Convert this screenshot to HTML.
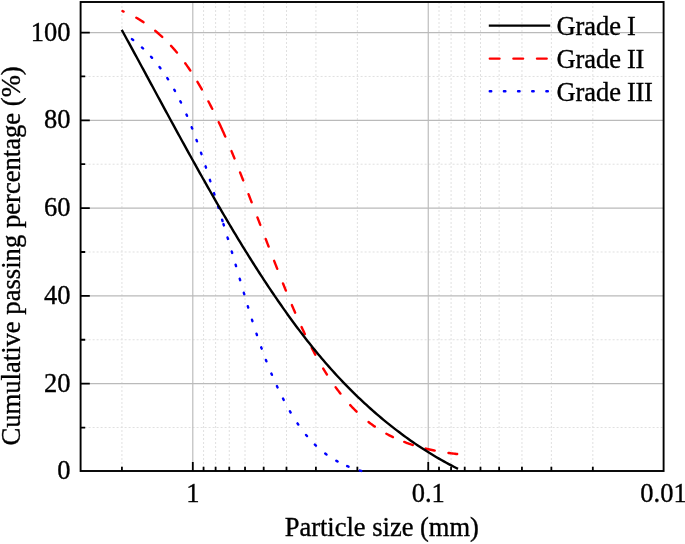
<!DOCTYPE html>
<html><head><meta charset="utf-8"><title>Particle size distribution</title>
<style>.t{stroke:#000;stroke-width:.35px}html,body{margin:0;padding:0;background:#fff}body{width:685px;height:544px;overflow:hidden}</style></head>
<body>
<svg width="685" height="544" viewBox="0 0 685 544" style="display:block;font-family:'Liberation Serif','Times New Roman',serif;font-size:26.5px;fill:#000;stroke:none">
<rect width="685" height="544" fill="#fff"/>
<path d="M80.6 427.53H663.6M80.6 339.76H663.6M80.6 251.99H663.6M80.6 164.21H663.6M80.6 76.44H663.6M121.92 2.0V471.0M203.57 2.0V471.0M215.62 2.0V471.0M229.27 2.0V471.0M245.03 2.0V471.0M263.68 2.0V471.0M286.49 2.0V471.0M315.91 2.0V471.0M357.37 2.0V471.0M439.02 2.0V471.0M451.07 2.0V471.0M464.72 2.0V471.0M480.48 2.0V471.0M499.13 2.0V471.0M521.94 2.0V471.0M551.36 2.0V471.0M592.82 2.0V471.0" stroke="#e0e0e0" stroke-width="1" stroke-dasharray="2 2" fill="none"/>
<path d="M80.6 383.65H663.6M80.6 295.87H663.6M80.6 208.10H663.6M80.6 120.32H663.6M80.6 32.55H663.6M192.80 2.0V471.0M428.25 2.0V471.0" stroke="#bababa" stroke-width="1.15" fill="none"/>
<path d="M80.6 383.65h9.2M80.6 295.87h9.2M80.6 208.10h9.2M80.6 120.32h9.2M80.6 32.55h9.2M80.6 427.53h4.6M80.6 339.76h4.6M80.6 251.99h4.6M80.6 164.21h4.6M80.6 76.44h4.6M192.80 471.0v-9.1M428.25 471.0v-9.1M121.92 471.0v-4.3M203.57 471.0v-4.3M215.62 471.0v-4.3M229.27 471.0v-4.3M245.03 471.0v-4.3M263.68 471.0v-4.3M286.49 471.0v-4.3M315.91 471.0v-4.3M357.37 471.0v-4.3M439.02 471.0v-4.3M451.07 471.0v-4.3M464.72 471.0v-4.3M480.48 471.0v-4.3M499.13 471.0v-4.3M521.94 471.0v-4.3M551.36 471.0v-4.3M592.82 471.0v-4.3" stroke="#000" stroke-width="1.8" fill="none"/>
<rect x="80.6" y="2.0" width="583.0" height="469.0" fill="none" stroke="#000" stroke-width="1.9"/>
<path d="M121.89 32.21L122.80 32.77L123.70 33.34L124.61 33.92L125.50 34.50L126.39 35.09L127.27 35.69L128.14 36.30L129.01 36.91L129.88 37.53L130.73 38.16L131.59 38.79L132.43 39.43L133.27 40.08L134.10 40.73L134.93 41.39L135.75 42.06L136.57 42.73L137.38 43.41L138.18 44.09L138.98 44.78L139.77 45.48L140.55 46.18L141.33 46.89L142.11 47.61L142.88 48.33L143.64 49.06L144.40 49.79L145.15 50.53L145.89 51.27L146.63 52.02L147.37 52.77L148.10 53.53L148.82 54.30L149.54 55.07L150.25 55.84L150.96 56.62L151.66 57.41L152.36 58.20L153.05 58.99L153.73 59.79L154.41 60.60L155.09 61.40L155.76 62.22L156.42 63.03L157.08 63.86L157.73 64.68L158.38 65.51L159.03 66.35L159.66 67.18L160.30 68.03L160.92 68.87L161.55 69.72L162.17 70.58L162.78 71.43L163.39 72.30L163.99 73.16L164.59 74.03L165.18 74.90L165.77 75.77L166.35 76.65L166.93 77.53L167.50 78.42L168.07 79.30L168.63 80.19L169.19 81.09L169.75 81.98L170.30 82.88L170.84 83.78L171.38 84.69L171.92 85.60L172.45 86.51L172.98 87.42L173.50 88.33L174.02 89.25L174.54 90.17L175.05 91.09L175.55 92.02L176.05 92.95L176.55 93.88L177.05 94.81L177.54 95.74L178.02 96.68L178.51 97.62L178.98 98.56L179.46 99.50L179.93 100.45L180.40 101.40L180.86 102.35L181.32 103.30L181.78 104.25L182.23 105.20L182.68 106.16L183.13 107.12L183.58 108.08L184.02 109.04L184.45 110.01L184.89 110.97L185.32 111.94L185.75 112.91L186.17 113.88L186.59 114.85L187.01 115.82L187.43 116.80L187.84 117.77L188.25 118.75L188.66 119.73L189.06 120.71L189.47 121.69L189.87 122.67L190.26 123.65L190.66 124.64L191.05 125.62L191.44 126.61L191.83 127.59L192.22 128.58L192.60 129.57L192.98 130.56L193.36 131.55L193.74 132.54L194.11 133.53L194.48 134.52L194.86 135.52L195.23 136.51L195.59 137.50L195.96 138.50L196.32 139.49L196.68 140.49L197.05 141.48L197.40 142.48L197.76 143.48L198.12 144.47L198.47 145.47L198.83 146.47L199.18 147.46L199.53 148.46L199.88 149.46L200.22 150.46L200.57 151.46L200.91 152.46L201.26 153.46L201.60 154.46L201.94 155.46L202.28 156.46L202.62 157.46L202.95 158.46L203.29 159.46L203.62 160.46L203.96 161.46L204.29 162.47L204.62 163.47L204.95 164.47L205.28 165.47L205.61 166.48L205.93 167.48L206.26 168.48L206.58 169.49L206.91 170.49L207.23 171.49L207.55 172.50L207.88 173.50L208.20 174.51L208.52 175.51L208.84 176.52L209.15 177.52L209.47 178.53L209.79 179.54L210.11 180.54L210.42 181.55L210.74 182.55L211.05 183.56L211.37 184.57L211.68 185.57L211.99 186.58L212.30 187.59L212.62 188.60L212.93 189.60L213.24 190.61L213.55 191.62L213.86 192.63L214.17 193.63L214.48 194.64L214.79 195.65L215.10 196.66L215.41 197.67L215.71 198.68L216.02 199.68L216.33 200.69L216.64 201.70L216.95 202.71L217.26 203.72L217.56 204.73L217.87 205.74L218.18 206.75L218.49 207.76L218.79 208.76L219.10 209.77L219.41 210.78L219.72 211.79L220.02 212.80L220.33 213.81L220.64 214.82L220.95 215.83L221.25 216.84L221.56 217.85L221.87 218.86L222.18 219.87L222.48 220.88L222.79 221.89L223.10 222.90L223.40 223.91L223.71 224.92L224.02 225.93L224.33 226.94L224.63 227.95L224.94 228.96L225.24 229.97L225.55 230.98L225.86 232.00L226.16 233.01L226.47 234.02L226.77 235.03L227.08 236.04L227.38 237.05L227.69 238.06L227.99 239.07L228.30 240.09L228.60 241.10L228.91 242.11L229.21 243.12L229.52 244.13L229.82 245.15L230.12 246.16L230.43 247.17L230.73 248.18L231.03 249.20L231.34 250.21L231.64 251.22L231.94 252.23L232.24 253.25L232.54 254.26L232.84 255.27L233.15 256.29L233.45 257.30L233.75 258.31L234.05 259.33L234.35 260.34L234.65 261.35L234.94 262.37L235.24 263.38L235.54 264.40L235.84 265.41L236.14 266.43L236.44 267.44L236.73 268.46L237.03 269.47L237.33 270.48L237.62 271.50L237.92 272.51L238.22 273.53L238.51 274.55L238.81 275.56L239.10 276.58L239.40 277.59L239.69 278.61L239.99 279.62L240.29 280.64L240.58 281.65L240.88 282.67L241.17 283.68L241.47 284.70L241.77 285.71L242.06 286.73L242.36 287.74L242.65 288.76L242.95 289.77L243.25 290.79L243.55 291.80L243.84 292.82L244.14 293.83L244.44 294.84L244.74 295.86L245.04 296.87L245.34 297.89L245.64 298.90L245.94 299.91L246.24 300.93L246.54 301.94L246.85 302.95L247.15 303.96L247.45 304.98L247.76 305.99L248.06 307.00L248.37 308.01L248.68 309.02L248.98 310.03L249.29 311.04L249.60 312.05L249.91 313.06L250.22 314.07L250.53 315.08L250.85 316.09L251.16 317.10L251.47 318.11L251.79 319.12L252.11 320.12L252.42 321.13L252.74 322.14L253.06 323.14L253.38 324.15L253.71 325.15L254.03 326.16L254.35 327.16L254.68 328.17L255.01 329.17L255.33 330.18L255.66 331.18L255.99 332.18L256.33 333.18L256.66 334.18L257.00 335.18L257.33 336.18L257.67 337.18L258.01 338.18L258.35 339.18L258.69 340.18L259.04 341.18L259.38 342.17L259.73 343.17L260.08 344.16L260.43 345.16L260.78 346.15L261.14 347.15L261.49 348.14L261.85 349.13L262.21 350.12L262.57 351.11L262.93 352.10L263.30 353.09L263.66 354.08L264.03 355.07L264.40 356.06L264.78 357.04L265.15 358.03L265.53 359.01L265.91 360.00L266.29 360.98L266.67 361.97L267.06 362.95L267.44 363.93L267.83 364.91L268.22 365.89L268.62 366.87L269.02 367.85L269.41 368.82L269.81 369.80L270.22 370.77L270.62 371.75L271.03 372.72L271.44 373.69L271.85 374.67L272.27 375.64L272.69 376.61L273.11 377.58L273.53 378.54L273.96 379.51L274.38 380.48L274.82 381.44L275.25 382.41L275.69 383.37L276.12 384.33L276.57 385.29L277.01 386.25L277.46 387.21L277.91 388.17L278.36 389.13L278.82 390.08L279.27 391.04L279.74 391.99L280.20 392.94L280.67 393.89L281.14 394.84L281.61 395.79L282.09 396.74L282.57 397.69L283.05 398.63L283.53 399.58L284.02 400.52L284.52 401.46L285.01 402.41L285.51 403.34L286.01 404.28L286.52 405.22L287.03 406.15L287.54 407.08L288.06 408.01L288.58 408.94L289.10 409.87L289.63 410.79L290.16 411.71L290.70 412.63L291.24 413.54L291.78 414.46L292.33 415.36L292.88 416.27L293.44 417.17L294.00 418.07L294.57 418.97L295.14 419.86L295.72 420.75L296.30 421.64L296.88 422.52L297.47 423.40L298.07 424.27L298.67 425.14L299.27 426.00L299.88 426.87L300.50 427.72L301.12 428.57L301.75 429.42L302.38 430.26L303.02 431.10L303.66 431.93L304.31 432.76L304.96 433.58L305.62 434.40L306.29 435.21L306.96 436.01L307.63 436.81L308.32 437.61L309.01 438.39L309.70 439.18L310.40 439.95L311.11 440.72L311.83 441.48L312.55 442.24L313.28 442.99L314.01 443.73L314.75 444.47L315.50 445.20L316.25 445.92L317.01 446.64L317.78 447.35L318.56 448.05L319.34 448.74L320.13 449.43L320.92 450.11L321.73 450.78L322.54 451.44L323.35 452.09L324.18 452.74L325.01 453.38L325.85 454.01L326.70 454.63L327.56 455.24L328.42 455.85L329.29 456.44L330.17 457.03L331.05 457.61L331.95 458.18L332.84 458.74L333.75 459.29L334.66 459.83L335.57 460.37L336.50 460.89L337.43 461.41L338.36 461.92L339.30 462.41L340.24 462.90L341.19 463.38L342.15 463.85L343.11 464.31L344.08 464.76L345.05 465.20L346.02 465.63L347.00 466.05L347.98 466.46L348.97 466.86L349.96 467.25L350.96 467.63L351.96 468.00L352.96 468.36L353.97 468.72L354.97 469.06L355.99 469.39L357.00 469.71L358.02 470.02L359.04 470.31L360.06 470.60L361.09 470.88L362.12 471.15L363.15 471.40L364.18 471.65L365.21 471.88L366.25 472.11L367.28 472.32L368.32 472.52L369.36 472.71L370.40 472.89L371.44 473.06L372.31 473.19" stroke="#0000ff" stroke-width="2.4" stroke-linecap="round" stroke-dasharray="1.50 11.53 1.50 11.49 1.50 11.84 1.50 12.02 1.50 12.03 1.50 11.52 1.50 13.14 1.50 12.28 1.50 12.10 1.50 12.07 1.50 12.75 1.50 12.74 1.50 12.38 1.50 12.56 1.50 12.22 1.50 3.08 1.50 12.58 1.50 13.12 1.50 12.24 1.50 13.13 1.50 13.13 1.50 12.42 1.50 12.76 1.50 13.10 1.50 12.92 1.50 12.03 1.50 13.10 1.50 12.24 1.50 12.46 1.50 12.86 1.50 12.82 1.50 12.89 1.50 11.57 1.50 12.28 1.50 11.71 1.50 10.56 1.50 11.99 1.50 728.10" stroke-dashoffset="-12.21" fill="none"/>
<path d="M122.50 11.10L123.59 11.55L124.68 12.01L125.77 12.48L126.85 12.96L127.92 13.45L128.99 13.95L130.05 14.47L131.10 14.99L132.15 15.52L133.19 16.06L134.22 16.61L135.25 17.17L136.28 17.74L137.29 18.32L138.31 18.91L139.31 19.51L140.31 20.12L141.30 20.74L142.29 21.36L143.27 22.00L144.25 22.64L145.22 23.30L146.18 23.96L147.14 24.63L148.09 25.30L149.03 25.99L149.97 26.68L150.91 27.39L151.83 28.10L152.75 28.82L153.67 29.54L154.58 30.27L155.48 31.02L156.38 31.76L157.27 32.52L158.16 33.28L159.04 34.05L159.91 34.83L160.78 35.61L161.65 36.40L162.50 37.20L163.36 38.00L164.20 38.81L165.04 39.63L165.87 40.45L166.70 41.28L167.53 42.12L168.34 42.96L169.15 43.81L169.96 44.66L170.76 45.52L171.55 46.38L172.34 47.25L173.12 48.12L173.90 49.00L174.67 49.89L175.44 50.78L176.20 51.67L176.95 52.57L177.70 53.48L178.44 54.39L179.18 55.30L179.91 56.22L180.64 57.14L181.36 58.07L182.08 59.00L182.79 59.93L183.49 60.87L184.19 61.81L184.88 62.76L185.57 63.71L186.25 64.66L186.93 65.62L187.60 66.58L188.27 67.54L188.93 68.51L189.59 69.48L190.24 70.45L190.89 71.42L191.53 72.40L192.17 73.38L192.81 74.37L193.44 75.36L194.06 76.34L194.68 77.34L195.30 78.33L195.91 79.33L196.52 80.33L197.13 81.33L197.73 82.33L198.33 83.34L198.92 84.34L199.52 85.35L200.10 86.37L200.69 87.38L201.27 88.39L201.85 89.41L202.43 90.43L203.00 91.45L203.57 92.47L204.14 93.49L204.70 94.52L205.26 95.54L205.82 96.57L206.38 97.60L206.93 98.63L207.48 99.66L208.03 100.69L208.58 101.73L209.12 102.77L209.66 103.80L210.20 104.84L210.73 105.88L211.27 106.92L211.80 107.96L212.33 109.01L212.85 110.05L213.38 111.10L213.90 112.15L214.42 113.20L214.93 114.25L215.45 115.30L215.96 116.35L216.47 117.40L216.97 118.46L217.48 119.51L217.98 120.57L218.48 121.63L218.98 122.69L219.48 123.75L219.97 124.81L220.46 125.87L220.95 126.93L221.44 128.00L221.92 129.06L222.41 130.13L222.89 131.19L223.37 132.26L223.84 133.33L224.32 134.40L224.79 135.47L225.26 136.54L225.73 137.61L226.20 138.68L226.67 139.76L227.13 140.83L227.59 141.91L228.06 142.98L228.51 144.06L228.97 145.14L229.43 146.21L229.88 147.29L230.34 148.37L230.79 149.45L231.24 150.53L231.69 151.61L232.14 152.69L232.58 153.78L233.03 154.86L233.47 155.94L233.92 157.03L234.36 158.11L234.80 159.20L235.24 160.28L235.68 161.37L236.11 162.45L236.55 163.54L236.98 164.63L237.42 165.72L237.85 166.80L238.28 167.89L238.72 168.98L239.15 170.07L239.58 171.16L240.01 172.25L240.43 173.34L240.86 174.43L241.29 175.52L241.72 176.61L242.14 177.70L242.57 178.80L242.99 179.89L243.42 180.98L243.84 182.07L244.26 183.17L244.68 184.26L245.11 185.35L245.53 186.44L245.95 187.54L246.37 188.63L246.79 189.72L247.22 190.82L247.64 191.91L248.06 193.00L248.48 194.10L248.90 195.19L249.32 196.28L249.74 197.38L250.16 198.47L250.58 199.57L251.00 200.66L251.42 201.75L251.84 202.85L252.26 203.94L252.68 205.03L253.10 206.13L253.52 207.22L253.94 208.32L254.36 209.41L254.78 210.50L255.20 211.60L255.61 212.69L256.03 213.78L256.45 214.88L256.87 215.97L257.29 217.07L257.71 218.16L258.13 219.25L258.55 220.35L258.97 221.44L259.39 222.53L259.81 223.63L260.23 224.72L260.65 225.82L261.07 226.91L261.49 228.00L261.91 229.10L262.33 230.19L262.75 231.28L263.17 232.38L263.59 233.47L264.01 234.56L264.43 235.66L264.85 236.75L265.27 237.84L265.69 238.94L266.11 240.03L266.53 241.12L266.95 242.22L267.37 243.31L267.79 244.40L268.21 245.50L268.63 246.59L269.05 247.68L269.47 248.78L269.90 249.87L270.32 250.96L270.74 252.06L271.16 253.15L271.58 254.24L272.01 255.33L272.43 256.43L272.85 257.52L273.27 258.61L273.70 259.70L274.12 260.80L274.54 261.89L274.97 262.98L275.39 264.07L275.82 265.16L276.24 266.26L276.67 267.35L277.09 268.44L277.52 269.53L277.95 270.62L278.37 271.71L278.80 272.80L279.23 273.90L279.66 274.99L280.09 276.08L280.51 277.17L280.95 278.26L281.38 279.34L281.81 280.43L282.24 281.52L282.67 282.61L283.11 283.70L283.54 284.79L283.98 285.87L284.42 286.96L284.85 288.05L285.29 289.13L285.73 290.22L286.17 291.31L286.61 292.39L287.06 293.47L287.50 294.56L287.95 295.64L288.39 296.73L288.84 297.81L289.29 298.89L289.74 299.97L290.19 301.05L290.64 302.13L291.09 303.21L291.55 304.29L292.00 305.37L292.46 306.45L292.92 307.53L293.38 308.61L293.84 309.68L294.31 310.76L294.77 311.83L295.24 312.91L295.71 313.98L296.18 315.05L296.65 316.13L297.12 317.20L297.60 318.27L298.07 319.34L298.55 320.41L299.03 321.48L299.52 322.54L300.00 323.61L300.49 324.68L300.97 325.74L301.46 326.81L301.96 327.87L302.45 328.93L302.95 330.00L303.44 331.06L303.94 332.12L304.45 333.18L304.95 334.24L305.46 335.29L305.96 336.35L306.48 337.40L306.99 338.46L307.50 339.51L308.02 340.56L308.54 341.62L309.07 342.67L309.59 343.71L310.12 344.76L310.65 345.81L311.19 346.85L311.72 347.89L312.26 348.94L312.80 349.97L313.35 351.01L313.90 352.05L314.45 353.08L315.00 354.12L315.56 355.15L316.12 356.18L316.68 357.20L317.25 358.23L317.82 359.25L318.40 360.27L318.97 361.29L319.55 362.31L320.14 363.33L320.73 364.34L321.32 365.35L321.91 366.36L322.51 367.36L323.12 368.36L323.72 369.36L324.33 370.36L324.95 371.36L325.57 372.35L326.19 373.34L326.82 374.33L327.45 375.31L328.08 376.29L328.72 377.27L329.37 378.25L330.02 379.22L330.67 380.19L331.33 381.16L331.99 382.12L332.66 383.08L333.33 384.04L334.00 384.99L334.68 385.95L335.37 386.89L336.06 387.84L336.75 388.78L337.45 389.71L338.16 390.65L338.87 391.58L339.58 392.50L340.31 393.43L341.03 394.35L341.76 395.26L342.50 396.17L343.24 397.08L343.99 397.98L344.74 398.88L345.50 399.77L346.26 400.66L347.03 401.55L347.80 402.43L348.59 403.30L349.37 404.17L350.16 405.04L350.96 405.90L351.76 406.75L352.57 407.60L353.39 408.44L354.21 409.28L355.04 410.11L355.87 410.94L356.71 411.76L357.55 412.57L358.40 413.37L359.26 414.17L360.13 414.96L361.00 415.75L361.87 416.53L362.76 417.30L363.64 418.06L364.54 418.82L365.44 419.57L366.35 420.31L367.27 421.04L368.19 421.76L369.12 422.48L370.05 423.19L370.99 423.89L371.94 424.58L372.89 425.27L373.85 425.94L374.82 426.61L375.79 427.27L376.77 427.92L377.75 428.57L378.74 429.20L379.73 429.83L380.73 430.44L381.73 431.05L382.74 431.65L383.75 432.25L384.77 432.83L385.80 433.40L386.82 433.97L387.86 434.53L388.89 435.07L389.93 435.61L390.98 436.14L392.03 436.66L393.08 437.18L394.14 437.68L395.20 438.17L396.26 438.66L397.33 439.14L398.40 439.60L399.48 440.06L400.55 440.51L401.64 440.96L402.72 441.39L403.81 441.82L404.90 442.23L405.99 442.64L407.09 443.04L408.19 443.44L409.29 443.82L410.40 444.20L411.51 444.57L412.62 444.93L413.73 445.29L414.85 445.63L415.97 445.97L417.09 446.31L418.21 446.63L419.34 446.95L420.47 447.26L421.60 447.57L422.73 447.86L423.87 448.15L425.00 448.44L426.14 448.72L427.28 448.99L428.42 449.25L429.56 449.51L430.71 449.77L431.86 450.01L433.00 450.25L434.15 450.49L435.30 450.72L436.46 450.94L437.61 451.16L438.76 451.37L439.92 451.58L441.07 451.78L442.23 451.97L443.39 452.16L444.55 452.35L445.71 452.53L446.87 452.71L448.03 452.88L449.19 453.04L450.35 453.20L451.52 453.36L452.68 453.51L453.84 453.66L455.01 453.81L456.17 453.94L457.33 454.08L458.30 454.19" stroke="#ff0000" stroke-width="2.4" stroke-linecap="round" stroke-dasharray="1.20 14.14 8.52 14.47 9.30 12.56 8.95 13.55 8.93 13.32 8.72 13.71 8.32 14.88 15.74 15.86 7.94 15.09 8.53 14.70 8.73 16.26 7.95 15.09 8.14 15.29 8.53 15.68 7.75 15.68 8.34 15.68 7.76 15.50 7.57 16.06 6.96 15.46 7.94 15.10 9.13 15.88 7.77 13.55 7.37 12.34 9.09 13.32 9.32 13.94 8.74 785.52" stroke-dashoffset="-0.00" fill="none"/>
<path d="M121.70 29.80L123.06 32.27L124.42 34.75L125.78 37.22L127.13 39.70L128.48 42.17L129.83 44.65L131.18 47.13L132.53 49.60L133.88 52.08L135.23 54.56L136.57 57.04L137.91 59.52L139.26 62.00L140.60 64.47L141.94 66.95L143.28 69.43L144.62 71.91L145.96 74.39L147.30 76.87L148.64 79.35L149.98 81.83L151.32 84.31L152.66 86.79L153.99 89.26L155.33 91.74L156.67 94.22L158.01 96.70L159.35 99.18L160.69 101.65L162.03 104.13L163.37 106.61L164.71 109.08L166.05 111.56L167.40 114.03L168.74 116.51L170.09 118.98L171.43 121.45L172.78 123.93L174.13 126.40L175.48 128.87L176.83 131.34L178.18 133.82L179.53 136.29L180.89 138.76L182.24 141.23L183.60 143.70L184.96 146.16L186.32 148.63L187.68 151.10L189.05 153.57L190.41 156.04L191.78 158.50L193.15 160.97L194.52 163.44L195.90 165.90L197.27 168.37L198.65 170.83L200.03 173.30L201.42 175.76L202.80 178.23L204.19 180.69L205.58 183.15L206.97 185.61L208.37 188.07L209.77 190.53L211.17 192.98L212.57 195.44L213.98 197.89L215.38 200.35L216.80 202.80L218.21 205.24L219.63 207.69L221.05 210.14L222.48 212.58L223.90 215.02L225.33 217.46L226.77 219.90L228.21 222.33L229.65 224.76L231.09 227.19L232.54 229.62L233.99 232.04L235.45 234.46L236.91 236.88L238.37 239.29L239.84 241.70L241.31 244.11L242.79 246.52L244.27 248.92L245.75 251.32L247.24 253.71L248.73 256.10L250.23 258.49L251.73 260.87L253.23 263.25L254.74 265.63L256.26 268.00L257.78 270.37L259.30 272.73L260.83 275.09L262.37 277.44L263.90 279.79L265.45 282.14L267.00 284.48L268.55 286.81L270.11 289.14L271.67 291.47L273.24 293.79L274.82 296.10L276.39 298.41L277.98 300.72L279.57 303.02L281.17 305.31L282.77 307.60L284.38 309.88L285.99 312.16L287.62 314.43L289.24 316.69L290.88 318.95L292.52 321.20L294.17 323.45L295.83 325.69L297.50 327.92L299.17 330.14L300.85 332.36L302.54 334.58L304.24 336.78L305.95 338.98L307.67 341.17L309.40 343.36L311.14 345.54L312.88 347.71L314.64 349.87L316.41 352.02L318.19 354.17L319.98 356.31L321.78 358.44L323.59 360.57L325.41 362.68L327.24 364.79L329.09 366.89L330.95 368.98L332.81 371.06L334.69 373.13L336.59 375.20L338.49 377.25L340.41 379.30L342.34 381.34L344.28 383.36L346.23 385.38L348.20 387.39L350.18 389.39L352.17 391.37L354.17 393.35L356.19 395.32L358.22 397.27L360.26 399.21L362.31 401.15L364.38 403.07L366.45 404.98L368.54 406.88L370.64 408.76L372.76 410.63L374.88 412.50L377.02 414.34L379.17 416.18L381.32 418.00L383.50 419.81L385.68 421.61L387.87 423.39L390.08 425.16L392.29 426.91L394.52 428.65L396.76 430.37L399.01 432.08L401.27 433.78L403.54 435.46L405.83 437.12L408.12 438.77L410.43 440.40L412.74 442.02L415.07 443.62L417.41 445.20L419.76 446.77L422.12 448.32L424.49 449.85L426.87 451.36L429.26 452.85L431.67 454.33L434.08 455.78L436.51 457.22L438.94 458.64L441.39 460.03L443.85 461.41L446.32 462.76L448.80 464.10L451.30 465.41L453.80 466.70L456.31 467.97L458.00 468.81" stroke="#000" stroke-width="2.4" fill="none"/>
<text class="t" x="70.4" y="478.90" text-anchor="end">0</text>
<text class="t" x="70.4" y="391.70" text-anchor="end">20</text>
<text class="t" x="70.4" y="303.92" text-anchor="end">40</text>
<text class="t" x="70.4" y="216.15" text-anchor="end">60</text>
<text class="t" x="70.4" y="128.37" text-anchor="end">80</text>
<text class="t" x="70.4" y="40.60" text-anchor="end">100</text>
<text class="t" x="192.80" y="502.4" text-anchor="middle">1</text>
<text class="t" x="428.25" y="502.4" text-anchor="middle">0.1</text>
<text class="t" x="663.50" y="502.4" text-anchor="middle">0.01</text>
<text class="t" x="381.8" y="536.2" text-anchor="middle">Particle size (mm)</text>
<text class="t" transform="translate(20.2 255.9) rotate(-90)" text-anchor="middle" style="font-size:26.63px">Cumulative passing percentage (%)</text>
<path d="M488.8 25.6H550.2" stroke="#000" stroke-width="2.4"/>
<path d="M489.8 58.6H560" stroke="#ff0000" stroke-width="2.4" stroke-linecap="round" stroke-dasharray="9.7 13.9 9.7 13.9 9.7 100"/>
<path d="M489.75 91.3H560" stroke="#0000ff" stroke-width="2.4" stroke-linecap="round" stroke-dasharray="1.5 12.65 1.5 12.65 1.5 12.65 1.5 12.65 1.5 100"/>
<text class="t" x="556.4" y="34.90" style="word-spacing:-0.7px">Grade I</text>
<text class="t" x="556.4" y="67.80" style="word-spacing:-0.7px">Grade <tspan style="letter-spacing:-0.3px">II</tspan></text>
<text class="t" x="556.4" y="100.70" style="word-spacing:-0.7px">Grade <tspan style="letter-spacing:-0.3px">III</tspan></text>
</svg>
</body></html>
